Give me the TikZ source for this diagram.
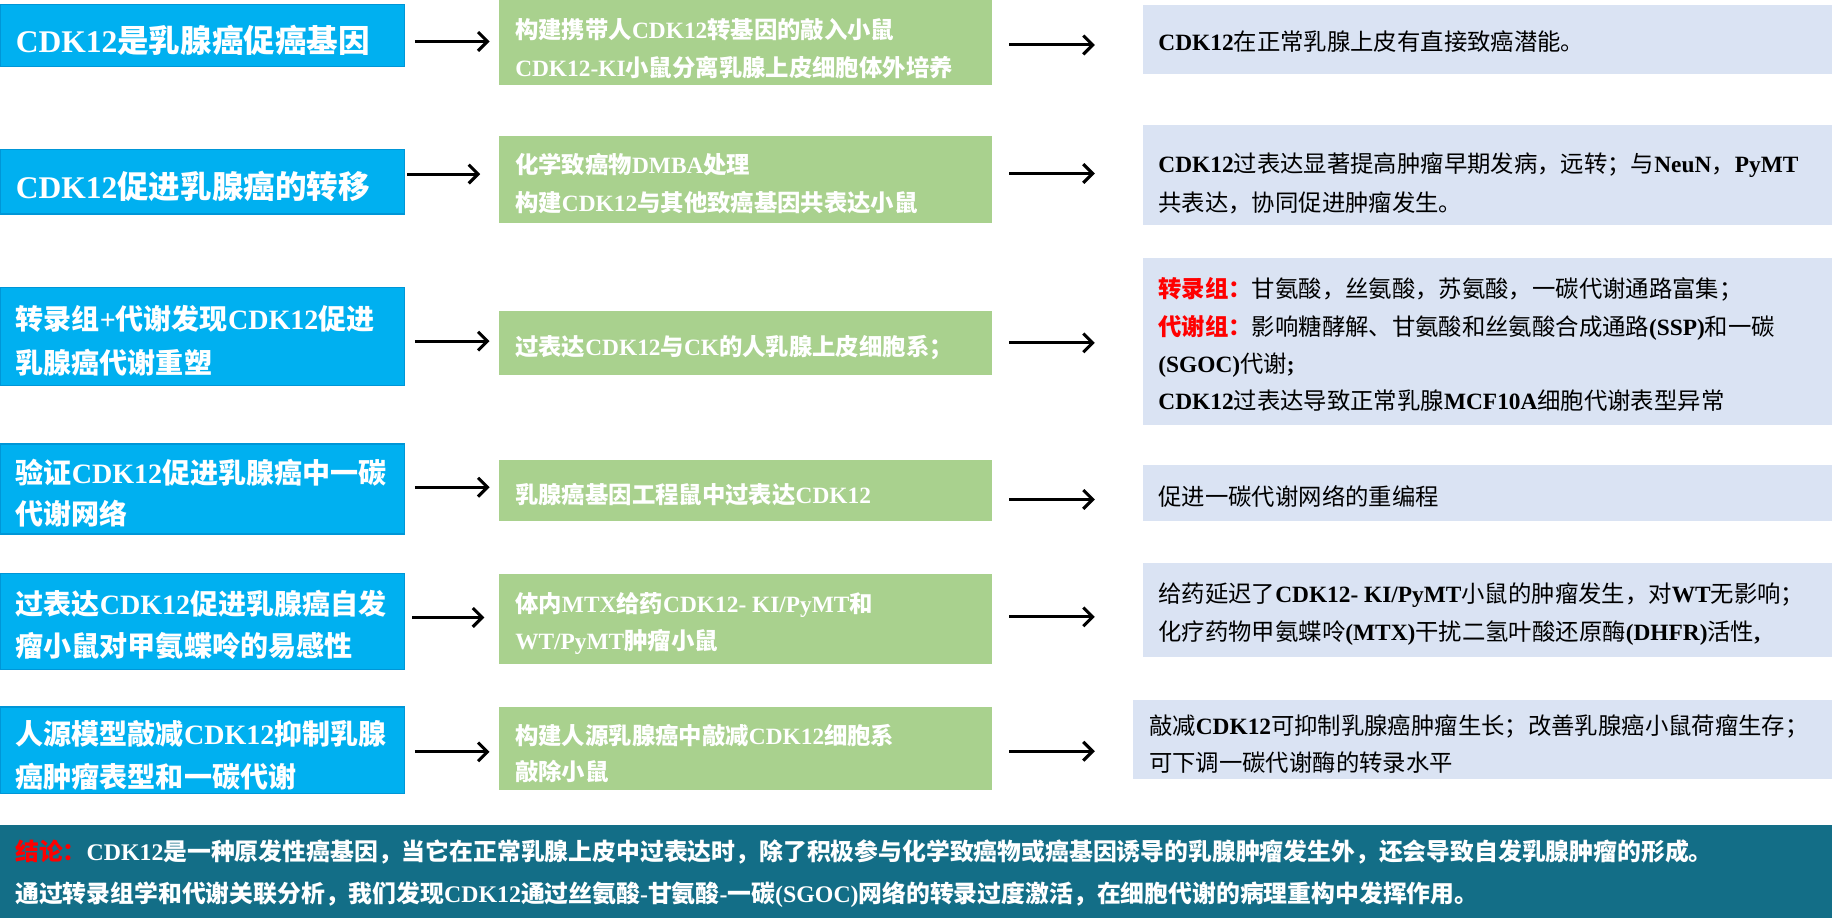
\documentclass[tikz,border=0pt]{standalone}
\usepackage{fontspec}
\usetikzlibrary{arrows.meta}
\setmainfont{Liberation Serif}
\newfontfamily\cjkfam{Noto Sans CJK SC}
\newcommand\cjkweight{\bfseries}
\newcommand\cjksw{\cjkfam\cjkweight}
\newcommand\latsw{\rmfamily\bfseries}
\XeTeXinterchartokenstate=1
\newXeTeXintercharclass\mycjkclass
\newcount\mycnt
\newcommand\setcjkrange[2]{\mycnt=#1\relax\loop\XeTeXcharclass\mycnt=\mycjkclass\relax\ifnum\mycnt<#2\relax\advance\mycnt by 1\relax\repeat}
\setcjkrange{"3000}{"303F}
\setcjkrange{"4E00}{"9FFF}
\setcjkrange{"FF00}{"FFEF}
\XeTeXinterchartoks 0 \mycjkclass = {\cjksw}
\XeTeXinterchartoks 4095 \mycjkclass = {\cjksw}
\XeTeXinterchartoks \mycjkclass 0 = {\latsw}
\XeTeXinterchartoks \mycjkclass 4095 = {\latsw}
\XeTeXinterchartoks 4095 0 = {\latsw}
\newcommand\redlab[1]{{\def\cjkweight{\bfseries}\color{red}#1}\cjksw}
\newcommand\lightfont{\fontsize{10}{12}\selectfont\bfseries\def\cjkweight{\mdseries}}
\definecolor{cbluebox}{RGB}{0,176,240}
\definecolor{cblueedge}{RGB}{0,150,215}
\definecolor{cgreen}{RGB}{169,209,142}
\definecolor{clight}{RGB}{218,227,243}
\definecolor{cconcl}{RGB}{19,110,135}
\tikzset{
 boxbase/.style={rectangle, inner sep=0pt, outer sep=0pt, anchor=north west},
 bluebox/.style={boxbase, fill=cbluebox, draw=cblueedge, line width=0.6pt, minimum width=173pt},
 greenbox/.style={boxbase, fill=cgreen, minimum width=211pt},
 lightbox/.style={boxbase, fill=clight, minimum width=295pt},
 conclbox/.style={boxbase, fill=cconcl},
 txt/.style={inner sep=0pt, outer sep=0pt, anchor=base west},
 titleA/.style={txt, text=white, font=\fontsize{13.5}{16}\selectfont\bfseries},
 titleB/.style={txt, text=white, font=\fontsize{12}{14}\selectfont\bfseries},
 greentxt/.style={txt, text=white, font=\fontsize{10}{12}\selectfont\bfseries},
 lighttxt/.style={txt, text=black, font=\lightfont},
 concltxt/.style={txt, text=white, font=\fontsize{10.2}{12}\selectfont\bfseries},
 conn/.style 2 args={draw=black, line width=1.3pt, -{Straight Barb[length=4pt,width=8pt]}, shorten <=#1, shorten >=#2},
}
\begin{document}
\begin{tikzpicture}[x=0.5pt,y=-0.5pt]
\useasboundingbox (0,0) rectangle (1568,786);
% left blue boxes
\node[bluebox, minimum height=26.5pt] (b1) at (0,4) {};
\node[bluebox, minimum height=27.5pt] (b2) at (0,128) {};
\node[bluebox, minimum height=42pt] (b3) at (0,246) {};
\node[bluebox, minimum height=38.5pt] (b4) at (0,380) {};
\node[bluebox, minimum height=41pt] (b5) at (0,491) {};
\node[bluebox, minimum height=37pt] (b6) at (0,605) {};
% middle green boxes
\node[greenbox, minimum height=36.5pt] (g1) at (427,0) {};
\node[greenbox, minimum height=37.5pt] (g2) at (427,116) {};
\node[greenbox, minimum height=27.5pt] (g3) at (427,266) {};
\node[greenbox, minimum height=26pt] (g4) at (427,394) {};
\node[greenbox, minimum height=38.5pt] (g5) at (427,491) {};
\node[greenbox, minimum height=35.5pt] (g6) at (427,605) {};
% right light boxes
\node[lightbox, minimum height=29.5pt] (l1) at (978,4) {};
\node[lightbox, minimum height=43pt] (l2) at (978,107) {};
\node[lightbox, minimum height=71.5pt] (l3) at (978,221) {};
\node[lightbox, minimum height=24pt] (l4) at (978,398) {};
\node[lightbox, minimum height=40pt] (l5) at (978,482) {};
\node[lightbox, minimum width=299pt, minimum height=34pt] (l6) at (970,599) {};
% conclusion box
\node[conclbox, minimum width=784pt, minimum height=40pt] (cc) at (0,706) {};
% blue texts
\node[titleA] (b1t) at (13.5,45.3) {CDK12是乳腺癌促癌基因};
\node[titleA] (b2t) at (13.5,170.3) {CDK12促进乳腺癌的转移};
\node[titleB] (b3t1) at (13.5,281.6) {转录组+代谢发现CDK12促进};
\node[titleB] (b3t2) at (13.5,319.6) {乳腺癌代谢重塑};
\node[titleB] (b4t1) at (13.5,413.6) {验证CDK12促进乳腺癌中一碳};
\node[titleB] (b4t2) at (13.5,449.1) {代谢网络};
\node[titleB] (b5t1) at (13.5,526.1) {过表达CDK12促进乳腺癌自发};
\node[titleB] (b5t2) at (13.5,562.1) {瘤小鼠对甲氨蝶呤的易感性};
\node[titleB] (b6t1) at (13.5,637.6) {人源模型敲减CDK12抑制乳腺};
\node[titleB] (b6t2) at (13.5,674.1) {癌肿瘤表型和一碳代谢};
% green texts
\node[greentxt] (g1t1) at (441,32.6) {构建携带人CDK12转基因的敲入小鼠};
\node[greentxt] (g1t2) at (441,65.1) {CDK12-KI小鼠分离乳腺上皮细胞体外培养};
\node[greentxt] (g2t1) at (441,148.6) {化学致癌物DMBA处理};
\node[greentxt] (g2t2) at (441,181.1) {构建CDK12与其他致癌基因共表达小鼠};
\node[greentxt] (g3t) at (441,304.1) {过表达CDK12与CK的人乳腺上皮细胞系；};
\node[greentxt] (g4t) at (441,431.1) {乳腺癌基因工程鼠中过表达CDK12};
\node[greentxt] (g5t1) at (441,524.1) {体内MTX给药CDK12- KI/PyMT和};
\node[greentxt] (g5t2) at (441,556.1) {WT/PyMT肿瘤小鼠};
\node[greentxt] (g6t1) at (441,637.1) {构建人源乳腺癌中敲减CDK12细胞系};
\node[greentxt] (g6t2) at (441,668.1) {敲除小鼠};
% light texts
\node[lighttxt] (l1t) at (991.5,43.1) {CDK12在正常乳腺上皮有直接致癌潜能。};
\node[lighttxt] (l2t1) at (991.5,147.6) {CDK12过表达显著提高肿瘤早期发病，远转；与NeuN，PyMT};
\node[lighttxt] (l2t2) at (991.5,180.6) {共表达，协同促进肿瘤发生。};
\node[lighttxt] (l3t1) at (991.5,254.6) {\redlab{转录组：}甘氨酸，丝氨酸，苏氨酸，一碳代谢通路富集；};
\node[lighttxt] (l3t2) at (991.5,287.1) {\redlab{代谢组：}影响糖酵解、甘氨酸和丝氨酸合成通路(SSP)和一碳};
\node[lighttxt] (l3t3) at (991.5,318.6) {(SGOC)代谢;};
\node[lighttxt] (l3t4) at (991.5,350.1) {CDK12过表达导致正常乳腺MCF10A细胞代谢表型异常};
\node[lighttxt] (l4t) at (991.5,432.6) {促进一碳代谢网络的重编程};
\node[lighttxt] (l5t1) at (991.5,515.6) {给药延迟了CDK12- KI/PyMT小鼠的肿瘤发生，对WT无影响；};
\node[lighttxt] (l5t2) at (991.5,548.1) {化疗药物甲氨蝶呤(MTX)干扰二氢叶酸还原酶(DHFR)活性,};
\node[lighttxt] (l6t1) at (983.5,628.6) {敲减CDK12可抑制乳腺癌肿瘤生长；改善乳腺癌小鼠荷瘤生存；};
\node[lighttxt] (l6t2) at (983.5,660.6) {可下调一碳代谢酶的转录水平};
% conclusion texts
\node[concltxt] (c1) at (13,736.9) {\redlab{结论：}CDK12是一种原发性癌基因，当它在正常乳腺上皮中过表达时，除了积极参与化学致癌物或癌基因诱导的乳腺肿瘤发生外，还会导致自发乳腺肿瘤的形成。};
\node[concltxt] (c2) at (13,772.4) {通过转录组学和代谢关联分析，我们发现CDK12通过丝氨酸-甘氨酸-一碳(SGOC)网络的转录过度激活，在细胞代谢的病理重构中发挥作用。};
% arrow levels
\coordinate (ya1) at (0,35.5);
\coordinate (ya2) at (0,149);
\coordinate (ya3) at (0,292);
\coordinate (ya4) at (0,417);
\coordinate (ya5) at (0,528.5);
\coordinate (ya6) at (0,643.5);
\coordinate (yb1) at (0,38.5);
\coordinate (yb2) at (0,148.5);
\coordinate (yb3) at (0,293.5);
\coordinate (yb4) at (0,427.5);
\coordinate (yb5) at (0,528);
\coordinate (yb6) at (0,643);
% arrows blue -> green
\draw[conn={4.5pt}{4pt}] (b1.east |- ya1) -- (g1.west |- ya1);
\draw[conn={1.25pt}{8pt}] (b2.east |- ya2) -- (g2.west |- ya2);
\draw[conn={4.5pt}{4pt}] (b3.east |- ya3) -- (g3.west |- ya3);
\draw[conn={4.5pt}{4pt}] (b4.east |- ya4) -- (g4.west |- ya4);
\draw[conn={3.5pt}{6.25pt}] (b5.east |- ya5) -- (g5.west |- ya5);
\draw[conn={4.5pt}{4pt}] (b6.east |- ya6) -- (g6.west |- ya6);
% arrows green -> light
\draw[conn={7.5pt}{20.5pt}] (g1.east |- yb1) -- (l1.west |- yb1);
\draw[conn={7.5pt}{20.5pt}] (g2.east |- yb2) -- (l2.west |- yb2);
\draw[conn={7.5pt}{20.5pt}] (g3.east |- yb3) -- (l3.west |- yb3);
\draw[conn={7.5pt}{20.5pt}] (g4.east |- yb4) -- (l4.west |- yb4);
\draw[conn={7.5pt}{20.5pt}] (g5.east |- yb5) -- (l5.west |- yb5);
\draw[conn={7.5pt}{16.5pt}] (g6.east |- yb6) -- (l6.west |- yb6);
\end{tikzpicture}
\end{document}
